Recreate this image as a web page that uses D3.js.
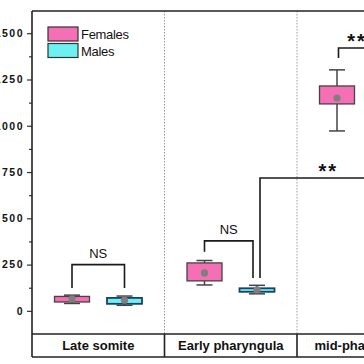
<!DOCTYPE html>
<html>
<head>
<meta charset="utf-8">
<script src="https://cdn.jsdelivr.net/npm/d3@7"></script>
<style>
  html, body { margin: 0; padding: 0; background: #fff; }
  svg { display: block; }
</style>
</head>
<body>
<script>
// ---------- data ----------
const categories = ["Late somite", "Early pharyngula", "mid-pharyngula"];
const groups = ["Females", "Males"];

const femalesMin    = [40, 140, 972];
const femalesQ1     = [48, 162, 1118];
const femalesMedian = [62, 200, 1160];
const femalesQ3     = [78, 259, 1215];
const femalesMax    = [85, 272, 1302];
const femalesMean   = [65, 205, 1150];

const malesMin    = [30, 92];
const malesQ1     = [38, 103];
const malesMedian = [55, 115];
const malesQ3     = [70, 122];
const malesMax    = [80, 138];
const malesMean   = [58, 113];

const yMajorTicks = [0, 250, 500, 750, 1000, 1250, 1500];
const yMinorTicks = [125, 375, 625, 875, 1125, 1375];

// significance brackets
const bracketFrom  = [["Late somite","Females"], ["Early pharyngula","Females"], ["Early pharyngula","Males"], ["mid-pharyngula","Females"]];
const bracketTo    = [["Late somite","Males"],   ["Early pharyngula","Males"],   ["mid-pharyngula","Males"],   ["mid-pharyngula","Males"]];
const bracketTop   = [250, 378, 718, 1420];
const bracketLeft  = [124, 319, 178, 1366];
const bracketRight = [124, 178, 650, 1366];
const bracketLabel = ["NS", "NS", "**", "**"];

// ---------- build ----------
const W = 364, H = 364;
const svg = d3.select("body").append("svg").attr("width", W).attr("height", H);

const plotLeft = 32, plotTop = 11, plotBottom = 334, bandBottom = 357;
const x = d3.scaleBand().domain(categories).range([plotLeft, plotLeft + 3 * 132.5]);
const xs = d3.scalePoint().domain(groups).range([0, x.bandwidth()]).padding(0.762);
const y = d3.scaleLinear().domain([-125, 1620]).range([plotBottom, plotTop]);
const cx = (c, g) => x(c) + xs(g);

const boxes = [];
categories.forEach((c, i) => {
  if (femalesMin[i] !== undefined)
    boxes.push({c, g: "Females", min: femalesMin[i], q1: femalesQ1[i], med: femalesMedian[i], q3: femalesQ3[i], max: femalesMax[i], mean: femalesMean[i]});
  if (malesMin[i] !== undefined)
    boxes.push({c, g: "Males", min: malesMin[i], q1: malesQ1[i], med: malesMedian[i], q3: malesQ3[i], max: malesMax[i], mean: malesMean[i]});
});

const color = d3.scaleOrdinal().domain(groups).range(["#f46fb3", "#6cf0f2"]);
const font = "'Liberation Sans', Arial, Helvetica, sans-serif";

// dotted separators
svg.append("g").selectAll("line").data(categories.slice(1)).join("line")
  .attr("x1", d => x(d)).attr("x2", d => x(d))
  .attr("y1", plotTop).attr("y2", plotBottom)
  .attr("stroke", "#9a9a9a").attr("stroke-width", 1).attr("stroke-dasharray", "1.5,1.5");

// axes
const yAxis = svg.append("g").attr("transform", `translate(${plotLeft},0)`)
  .call(d3.axisLeft(y).tickValues(yMajorTicks).tickSize(5).tickPadding(3).tickFormat(d3.format("d")));
yAxis.select(".domain").remove();
yAxis.selectAll(".tick line").attr("stroke", "#333").attr("stroke-width", 1.2);
yAxis.selectAll(".tick text").attr("font-family", font).attr("font-weight", "bold")
  .attr("font-size", 10.5).attr("letter-spacing", "1.5px").attr("fill", "#111");

const yMinor = svg.append("g").attr("transform", `translate(${plotLeft},0)`)
  .call(d3.axisLeft(y).tickValues(yMinorTicks).tickSize(3).tickFormat(""));
yMinor.select(".domain").remove();
yMinor.selectAll(".tick line").attr("stroke", "#333").attr("stroke-width", 1.2);

// frame
const frame = svg.append("g").attr("stroke", "#222").attr("stroke-width", 1.6).attr("fill", "none");
frame.append("line").attr("x1", plotLeft).attr("x2", W + 5).attr("y1", plotTop).attr("y2", plotTop);
frame.append("line").attr("x1", plotLeft).attr("x2", plotLeft).attr("y1", plotTop).attr("y2", bandBottom);
frame.append("line").attr("x1", plotLeft).attr("x2", W + 5).attr("y1", plotBottom).attr("y2", plotBottom);
frame.append("line").attr("x1", plotLeft).attr("x2", W + 5).attr("y1", bandBottom).attr("y2", bandBottom);
frame.selectAll(".sep").data(categories.slice(1)).join("line").attr("class", "sep")
  .attr("x1", d => x(d)).attr("x2", d => x(d)).attr("y1", plotBottom).attr("y2", bandBottom);

// category labels
svg.append("g").selectAll("text").data(categories).join("text")
  .attr("x", d => x(d) + x.bandwidth() / 2).attr("y", 350)
  .attr("text-anchor", "middle").attr("font-family", font).attr("font-weight", "bold")
  .attr("font-size", 13).attr("fill", "#111").text(d => d);

// boxes
const boxW = 35, capW = 16;
const bg = svg.append("g").selectAll("g").data(boxes).join("g")
  .attr("transform", d => `translate(${cx(d.c, d.g)},0)`);
bg.append("line").attr("y1", d => y(d.max)).attr("y2", d => y(d.q3))
  .attr("stroke", "#444").attr("stroke-width", 1.5);
bg.append("line").attr("y1", d => y(d.q1)).attr("y2", d => y(d.min))
  .attr("stroke", "#444").attr("stroke-width", 1.5);
bg.append("line").attr("x1", -capW / 2).attr("x2", capW / 2).attr("y1", d => y(d.max)).attr("y2", d => y(d.max))
  .attr("stroke", "#444").attr("stroke-width", 1.5);
bg.append("line").attr("x1", -capW / 2).attr("x2", capW / 2).attr("y1", d => y(d.min)).attr("y2", d => y(d.min))
  .attr("stroke", "#444").attr("stroke-width", 1.5);
bg.append("rect").attr("x", -boxW / 2).attr("width", boxW)
  .attr("y", d => y(d.q3)).attr("height", d => y(d.q1) - y(d.q3))
  .attr("fill", d => color(d.g))
  .attr("stroke", d => d.g === "Males" ? "#1c3f66" : "#444")
  .attr("stroke-width", d => d.g === "Males" ? 1.8 : 1.3);
bg.append("circle").attr("cy", d => y(d.mean)).attr("r", 3.6).attr("fill", "#7f7f7f");

// brackets
const bk = svg.append("g");
bracketTop.forEach((t, i) => {
  const [fc, fg] = bracketFrom[i], [tc, tg] = bracketTo[i];
  let x1 = cx(fc, fg), x2 = cx(tc, tg);
  if (i === 1) x2 -= 4;
  if (i === 2) { x1 += 3; x2 += 7; }
  if (i === 3) { x1 += 1.5; x2 -= 14; }
  bk.append("path")
    .attr("d", `M${x1},${y(bracketLeft[i])}V${y(t)}H${x2}V${y(bracketRight[i])}`)
    .attr("fill", "none").attr("stroke", "#1a1a1a").attr("stroke-width", 1.6);
  const isStar = bracketLabel[i] === "**";
  bk.append("text").attr("x", (x1 + x2) / 2).attr("y", y(t) - (isStar ? 0 : 7))
    .attr("text-anchor", "middle").attr("font-family", font)
    .attr("font-size", isStar ? 20 : 13).attr("font-weight", isStar ? "bold" : "normal")
    .attr("letter-spacing", isStar ? "2px" : "0px")
    .attr("fill", "#111").text(bracketLabel[i]);
});

// legend
const lg = svg.append("g");
groups.forEach((g, i) => {
  lg.append("rect").attr("x", 48).attr("y", 27 + i * 16.5).attr("width", 30).attr("height", 14)
    .attr("fill", color(g)).attr("stroke", "#333").attr("stroke-width", 1.2);
  lg.append("text").attr("x", 81).attr("y", 39 + i * 16.5).attr("font-family", font)
    .attr("font-size", 13).attr("letter-spacing", "-0.3px").attr("fill", "#111").text(g);
});
</script>
</body>
</html>
